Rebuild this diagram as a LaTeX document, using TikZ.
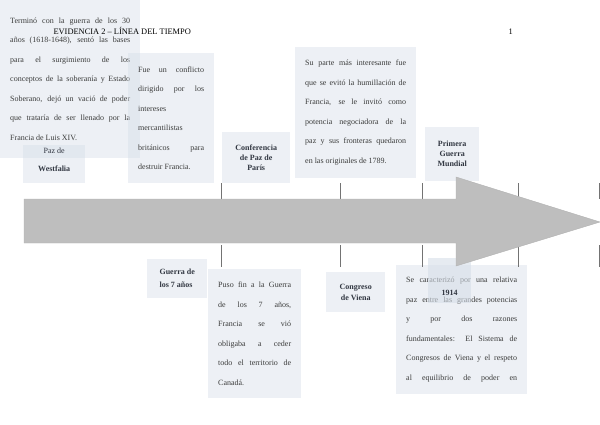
\documentclass[tikz,border=0pt]{standalone}
\usepackage{fontspec}
\setmainfont{Liberation Serif}
\definecolor{fondocaja}{RGB}{214,222,232}
\definecolor{grisflecha}{RGB}{190,190,190}
\definecolor{texto}{RGB}{60,60,60}
\definecolor{tinta}{RGB}{50,55,66}
\tolerance=10000
\hbadness=10000
\hyphenpenalty=10000

\tikzset{
  caja/.style={fill=fondocaja, fill opacity=0.45, text opacity=1, anchor=north west, inner ysep=0pt},
  nota/.style={caja, inner xsep=10pt, align=justify, text=texto, font=\fontsize{8}{19.5}\selectfont},
  etiqueta/.style={caja, inner xsep=0pt, align=center, text=tinta, font=\fontsize{8}{10}\selectfont\bfseries},
  marca/.style={draw=black!55, line width=0.8pt}
}

\begin{document}
\begin{tikzpicture}[x=1pt, y=-1pt]
\useasboundingbox (0,0) rectangle (600,424);

            % cajas de arriba
            \node (termino) [nota, text width=120pt, minimum height=158pt] at (0,0) {Terminó con la guerra de los 30\linebreak años (1618-1648), sentó las bases\linebreak para el surgimiento de los\linebreak conceptos de la soberanía y Estado\linebreak Soberano, dejó un vació de poder\linebreak que trataría de ser llenado por la\linebreak Francia de Luis XIV.};
            \node (westfalia) [etiqueta, font=\fontsize{8}{18}\selectfont, minimum width=62pt, minimum height=38pt] at (23,145) {Paz de\\\textbf{Westfalia}\rule[-8pt]{0pt}{0pt}};
            \node (conflicto) [nota, text width=66pt, minimum height=130pt] at (128,53) {Fue un conflicto\linebreak dirigido por los\linebreak intereses\linebreak mercantilistas\linebreak británicos para\linebreak destruir Francia.};
            \node (paris) [etiqueta, minimum width=68pt, minimum height=51pt] at (222,132) {Conferencia\\de Paz de\\París};
            \node (interes) [nota, text width=101pt, minimum height=131pt] at (295,47) {Su parte más interesante fue\linebreak que se evitó la humillación de\linebreak Francia, se le invitó como\linebreak potencia negociadora de la\linebreak paz y sus fronteras quedaron\linebreak en las originales de 1789.};
            \node (mundial) [etiqueta, minimum width=54pt, minimum height=54pt] at (425,127) {Primera\\Guerra\\Mundial};

            % cajas de abajo
            \node (sieteanos) [etiqueta, align=left, font=\fontsize{8}{13}\selectfont\bfseries, minimum width=60pt, minimum height=39pt] at (147,259) {Guerra de\\los 7 años};
            \node (puso) [nota, text width=73pt, minimum height=129pt] at (208,269) {Puso fin a la Guerra\linebreak de los 7 años,\linebreak Francia se vió\linebreak obligaba a ceder\linebreak todo el territorio de\linebreak Canadá.};
            \node (viena) [etiqueta, font=\fontsize{8}{11}\selectfont\bfseries, minimum width=59pt, minimum height=40pt] at (326,272) {Congreso\\de Viena};
            \node (equilibrio) [nota, text width=111pt, minimum height=129pt] at (396,265) {Se caracterizó por una relativa\linebreak paz entre las grandes potencias\linebreak y por dos razones\linebreak fundamentales: El Sistema de\linebreak Congresos de Viena y el respeto\linebreak \makebox[\linewidth][s]{al equilibrio de poder en}};
            \node (anio) [etiqueta, fill opacity=0.6, minimum width=43pt, text height=37pt, text depth=8pt] at (428,258) {1914};

            % marcas
            \foreach \x in {221,340,422,518,599} {
                \draw [marca] (\x,183) -- (\x,199);
                \draw [marca] (\x,245) -- (\x,267);
            }

            % flecha
            \draw [fill=grisflecha, draw=black!30, line width=0.4pt] (24,199) -- (456,199) -- (456,177) -- (600,222) -- (456,266) -- (456,243) -- (24,243) -- cycle;

            \node (titulo) [anchor=base west, font=\fontsize{8.4}{10}\selectfont] at (50,34) {EVIDENCIA 2 – LÍNEA DEL TIEMPO};
            \node (pagina) [anchor=base west, font=\fontsize{8.4}{10}\selectfont] at (505,34) {1};

        \end{tikzpicture}
\end{document}
